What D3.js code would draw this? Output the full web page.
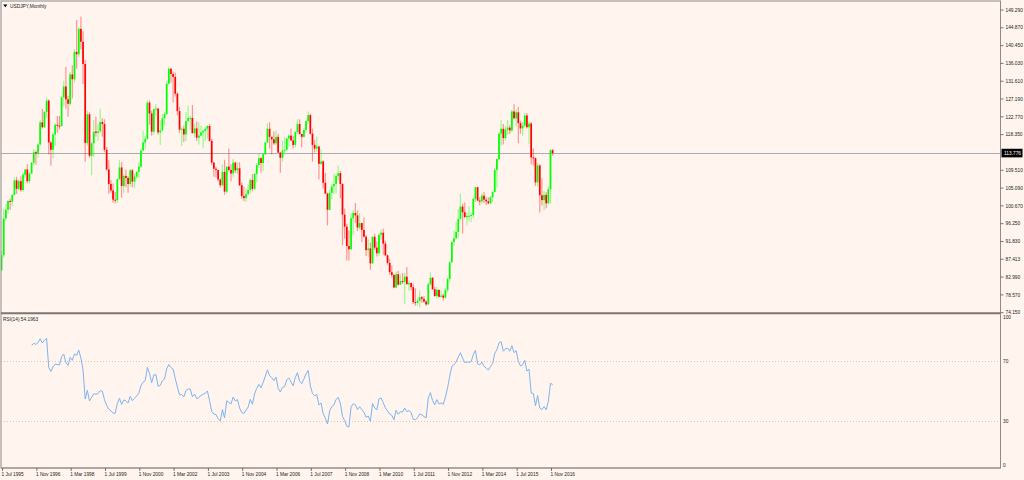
<!DOCTYPE html>
<html><head><meta charset="utf-8">
<script src="https://cdn.jsdelivr.net/npm/d3@7"></script>
<style>html,body{margin:0;padding:0;background:#fff5ee;} svg{display:block;}</style>
</head><body>
<svg id="chart" width="1024" height="480"></svg>
<script>
// ---- DATA (USDJPY monthly, Jul 1995 .. Dec 2016) ----
const firstMonth = "1995-07";
const lastMonth = "2016-12";
const openP = [
84.7,88.4,97.5,99.7,101.9,101.7,
103.4,107.0,104.9,106.8,104.6,108.4,109.7,106.8,108.7,111.4,114.0,113.7,
115.9,121.4,120.2,124.0,126.8,116.4,114.6,118.4,120.8,120.6,120.5,127.6,
130.3,127.1,126.0,133.3,132.1,138.9,138.3,144.6,141.4,135.9,116.3,123.4,
113.1,116.2,119.1,118.8,119.2,121.5,121.0,114.6,109.7,106.1,104.5,102.2,
102.1,107.3,110.2,105.6,108.1,107.6,106.1,109.5,106.7,107.9,109.1,110.4,
114.4,116.4,117.3,126.3,123.6,119.1,124.7,124.8,118.9,119.4,122.4,123.5,
131.0,134.7,133.4,132.7,128.5,124.2,119.6,119.8,118.4,121.7,122.5,122.5,
118.7,119.9,117.6,118.1,118.9,119.3,119.8,120.5,116.8,111.4,109.9,109.6,
107.2,105.8,109.1,104.2,110.4,109.6,108.7,111.4,109.5,110.0,105.8,103.1,
102.6,103.6,104.6,107.1,104.9,108.6,110.8,112.5,111.3,113.5,116.4,119.8,
117.8,117.2,116.2,117.8,113.9,112.6,114.4,114.6,117.4,118.1,116.9,115.8,
119.0,121.0,118.5,117.8,119.5,121.7,123.2,118.6,115.8,114.9,115.4,111.1,
111.7,106.4,103.7,99.7,103.9,105.5,106.1,108.1,108.8,106.1,98.5,95.5,
90.7,89.9,97.6,98.9,98.3,95.3,96.4,94.7,93.0,89.7,90.1,86.4,
93.0,90.3,88.9,93.5,94.0,91.3,88.4,86.5,84.2,83.5,80.4,83.7,
81.1,82.0,81.8,83.1,81.2,81.5,80.5,76.8,76.6,77.1,78.0,77.6,
76.9,76.2,81.2,82.8,80.0,78.3,79.8,78.1,78.4,77.9,79.8,82.5,
86.7,91.7,92.6,94.2,97.4,100.5,99.1,97.9,98.2,98.2,98.4,102.4,
105.3,102.0,101.8,103.2,102.2,101.8,101.3,102.8,104.1,109.6,112.3,118.6,
119.8,117.5,119.6,120.1,119.4,124.1,122.4,123.9,121.2,119.9,120.6,123.1,
120.2,121.1,112.7,112.5,106.5,110.7,103.3,102.1,103.4,101.3,104.8,114.5
];
const highP = [
89.5,99.9,101.2,102.0,102.5,103.6,
107.8,107.9,107.2,108.0,108.8,109.9,111.0,109.0,111.5,114.8,114.4,116.2,
121.9,124.7,124.2,127.5,127.1,116.8,118.8,121.2,123.0,123.0,128.0,131.7,
135.2,128.0,133.9,135.6,139.6,146.8,145.0,147.7,144.0,136.9,124.3,123.9,
116.6,122.0,122.8,121.0,124.8,122.4,122.2,115.3,112.0,107.1,106.2,104.1,
107.4,112.0,111.5,108.6,109.7,108.0,109.8,109.8,108.7,109.4,111.5,114.9,
119.4,118.0,126.8,126.8,124.3,124.8,126.0,125.0,121.9,123.5,124.1,131.8,
135.2,134.9,134.0,133.8,128.9,125.3,120.2,120.6,124.0,125.6,123.0,125.7,
121.1,121.7,121.4,120.6,119.6,120.3,120.6,121.0,117.3,111.6,110.4,109.6,
107.5,111.0,112.1,110.5,114.9,111.0,112.3,111.6,111.5,111.5,106.5,105.4,
104.9,106.0,107.5,108.6,108.8,111.3,113.7,112.8,113.6,116.6,121.2,121.4,
117.9,119.1,119.4,118.6,114.0,116.9,117.8,117.5,118.5,119.9,118.1,119.2,
122.2,122.2,118.6,120.0,122.0,124.1,123.6,119.9,117.0,117.9,115.5,114.7,
111.9,108.8,104.0,104.7,106.1,108.6,108.6,110.6,109.3,106.3,100.0,96.2,
94.6,98.9,99.7,101.4,99.6,98.9,96.5,97.8,93.4,92.3,91.5,93.1,
93.8,91.8,93.8,94.8,95.0,92.0,88.6,87.6,85.9,83.8,84.4,84.5,
83.7,84.0,84.0,85.5,82.2,81.7,81.4,80.2,77.9,79.6,78.3,78.3,
77.3,81.7,84.2,83.0,80.6,80.6,79.9,79.6,78.9,80.4,82.8,86.8,
91.8,94.5,96.7,99.9,103.7,101.2,101.5,99.1,100.6,99.0,102.6,105.4,
105.4,102.8,103.8,104.1,102.8,102.8,103.1,104.5,110.1,112.5,119.0,121.9,
121.0,120.5,122.0,120.8,124.5,125.9,124.6,125.3,121.8,121.5,123.8,123.7,
121.7,121.5,114.9,112.7,111.4,111.0,107.5,104.3,104.1,105.5,114.8,114.8
];
const lowP = [
84.5,87.8,96.9,98.7,99.7,100.6,
103.3,103.6,104.5,104.2,104.2,107.6,106.3,106.2,108.6,110.6,110.9,112.6,
115.6,119.9,120.0,122.5,113.4,110.6,112.5,115.6,118.9,119.6,120.3,125.4,
124.8,122.8,125.5,127.3,131.3,134.7,137.6,139.5,130.9,111.6,115.6,112.6,
108.3,112.8,117.9,116.8,118.8,117.8,114.0,109.4,103.7,103.9,101.5,101.3,
101.4,107.0,102.7,103.9,105.3,103.9,105.4,105.3,105.1,107.3,107.6,110.1,
114.3,114.7,117.1,120.8,118.1,118.4,123.0,118.3,115.8,119.2,120.6,123.2,
130.9,131.3,126.3,127.8,123.1,118.8,115.5,116.5,116.8,121.6,119.6,118.7,
117.7,116.8,115.9,118.0,115.0,116.8,117.3,116.6,110.8,107.9,107.7,106.8,
105.2,105.5,103.4,103.8,109.2,106.8,107.8,108.8,108.6,105.6,102.5,101.8,
101.7,103.3,103.8,104.3,104.6,106.6,110.1,108.9,109.4,113.3,116.3,114.9,
113.4,115.8,115.6,113.8,108.9,111.6,113.6,114.3,115.4,116.8,114.9,115.2,
118.5,118.3,115.2,117.6,118.8,121.0,118.3,111.6,113.9,114.1,107.2,110.8,
104.9,103.6,95.8,99.6,102.3,103.6,103.8,107.1,102.6,90.9,92.5,87.1,
87.1,89.7,93.5,96.5,94.4,94.8,91.7,92.8,88.2,88.0,84.8,86.3,
89.8,88.1,88.2,92.2,88.6,88.2,86.1,83.6,82.9,80.2,80.2,80.9,
81.0,81.3,76.3,81.2,79.6,79.7,76.3,75.9,75.9,75.5,76.6,76.6,
75.9,76.1,80.9,79.8,78.1,77.7,77.9,77.9,77.1,77.7,79.2,81.7,
86.5,90.8,92.5,92.6,97.3,93.8,97.6,95.8,97.0,96.6,97.6,101.6,
101.8,100.8,101.2,101.4,100.8,101.1,101.1,101.5,104.0,105.2,111.9,115.6,
115.9,116.9,118.3,118.5,118.9,122.1,120.4,116.2,118.6,118.1,120.2,119.9,
116.0,111.0,110.7,105.6,105.5,99.0,100.7,99.6,100.1,101.2,101.2,113.1
];
const closeP = [
88.4,97.5,99.7,101.9,101.7,103.4,
107.0,104.9,106.8,104.6,108.4,109.7,106.8,108.7,111.4,114.0,113.7,115.9,
121.4,120.2,124.0,126.8,116.4,114.6,118.4,120.8,120.6,120.5,127.6,130.3,
127.1,126.0,133.3,132.1,138.9,138.3,144.6,141.4,135.9,116.3,123.4,113.1,
116.2,119.1,118.8,119.2,121.5,121.0,114.6,109.7,106.1,104.5,102.2,102.1,
107.3,110.2,105.6,108.1,107.6,106.1,109.5,106.7,107.9,109.1,110.4,114.4,
116.4,117.3,126.3,123.6,119.1,124.7,124.8,118.9,119.4,122.4,123.5,131.0,
134.7,133.4,132.7,128.5,124.2,119.6,119.8,118.4,121.7,122.5,122.5,118.7,
119.9,117.6,118.1,118.9,119.3,119.8,120.5,116.8,111.4,109.9,109.6,107.2,
105.8,109.1,104.2,110.4,109.6,108.7,111.4,109.5,110.0,105.8,103.1,102.6,
103.6,104.6,107.1,104.9,108.6,110.8,112.5,111.3,113.5,116.4,119.8,117.8,
117.2,116.2,117.8,113.9,112.6,114.4,114.6,117.4,118.1,116.9,115.8,119.0,
121.0,118.5,117.8,119.5,121.7,123.2,118.6,115.8,114.9,115.4,111.1,111.7,
106.4,103.7,99.7,103.9,105.5,106.1,108.1,108.8,106.1,98.5,95.5,90.7,
89.9,97.6,98.9,98.3,95.3,96.4,94.7,93.0,89.7,90.1,86.4,93.0,
90.3,88.9,93.5,94.0,91.3,88.4,86.5,84.2,83.5,80.4,83.7,81.1,
82.0,81.8,83.1,81.2,81.5,80.5,76.8,76.6,77.1,78.0,77.6,76.9,
76.2,81.2,82.8,80.0,78.3,79.8,78.1,78.4,77.9,79.8,82.5,86.7,
91.7,92.6,94.2,97.4,100.5,99.1,97.9,98.2,98.2,98.4,102.4,105.3,
102.0,101.8,103.2,102.2,101.8,101.3,102.8,104.1,109.6,112.3,118.6,119.8,
117.5,119.6,120.1,119.4,124.1,122.4,123.9,121.2,119.9,120.6,123.1,120.2,
121.1,112.7,112.5,106.5,110.7,103.3,102.1,103.4,101.3,104.8,114.5,113.776
];
const priceTicks = ["149.290","144.870","140.450","136.030","131.610","127.190","122.770","118.350",
  "109.510","105.090","100.670","96.250","91.830","87.413","82.990","78.570","74.150"];
const currentPrice = 113.776;
const currentPriceLabel = "113.776";
const rsiTicks = [100, 70, 30, 0];
const rsiLevels = [70, 30];
const rsiPeriod = 14;
const xTickLabels = ["1 Jul 1995","1 Nov 1996","1 Mar 1998","1 Jul 1999","1 Nov 2000","1 Mar 2002",
  "1 Jul 2003","1 Nov 2004","1 Mar 2006","1 Jul 2007","1 Nov 2008","1 Mar 2010","1 Jul 2011",
  "1 Nov 2012","1 Mar 2014","1 Jul 2015","1 Nov 2016"];
const chartTitle = "USDJPY,Monthly";
const rsiTitle = "RSI(14) 54.1963";

// ---- BUILD ----
const pm = d3.timeParse("%Y-%m");
const months = d3.timeMonth.range(pm(firstMonth), d3.timeMonth.offset(pm(lastMonth), 1));
const bars = months.map((d, i) => ({date: d, o: openP[i], h: highP[i], l: lowP[i], c: closeP[i]}));

// RSI(14), Wilder smoothing, from the closes
function wilderRSI(cl, n) {
  const out = cl.map(() => null);
  let g = 0, l = 0;
  for (let i = 1; i <= n; i++) { const d = cl[i] - cl[i-1]; if (d > 0) g += d; else l -= d; }
  g /= n; l /= n;
  out[n] = l === 0 ? 100 : 100 - 100 / (1 + g / l);
  for (let i = n + 1; i < cl.length; i++) {
    const d = cl[i] - cl[i-1];
    g = (g * (n - 1) + Math.max(d, 0)) / n;
    l = (l * (n - 1) + Math.max(-d, 0)) / n;
    out[i] = l === 0 ? 100 : 100 - 100 / (1 + g / l);
  }
  return out;
}
const rsiVals = wilderRSI(closeP, rsiPeriod);

const svg = d3.select("#chart");
const FONT = "'Liberation Sans', Arial, sans-serif";
const FS = 4.8;
const plotL = 1, plotR = 1000.5, mainT = 1.5, mainB = 312.5, rsiT = 314.5, rsiB = 468;

const x = d3.scaleBand().domain(months.map(d => +d)).range([0.5, 0.5 + months.length * 2.1442]).paddingInner(0);
const cx = d => x(+d) + x.bandwidth() / 2;
const y = d3.scaleLinear().domain([74.15, 149.29]).range([312.7, 10]);
const yr = d3.scaleLinear().domain([0, 100]).range([466, 316]);

svg.append("rect").attr("width", 1024).attr("height", 480).attr("fill", "#fff5ee");

svg.append("defs").append("clipPath").attr("id", "mainclip")
  .append("rect").attr("x", plotL).attr("y", mainT).attr("width", plotR - plotL).attr("height", mainB - mainT);

// current price line
svg.append("line").attr("x1", plotL).attr("x2", plotR).attr("y1", y(currentPrice)).attr("y2", y(currentPrice))
  .attr("stroke", "#a7adb4").attr("stroke-width", 1).attr("shape-rendering", "crispEdges");

// candles
const cg = svg.append("g").attr("clip-path", "url(#mainclip)");
const col = b => b.c >= b.o ? "#00ff00" : "#ff0000";
cg.selectAll("line.wick").data(bars).join("line").attr("class", "wick")
  .attr("x1", b => cx(b.date)).attr("x2", b => cx(b.date))
  .attr("y1", b => y(b.h)).attr("y2", b => y(b.l))
  .attr("stroke", col).attr("stroke-opacity", 0.4).attr("stroke-width", 1.2);
cg.selectAll("rect.body").data(bars).join("rect").attr("class", "body")
  .attr("x", b => cx(b.date) - 0.85).attr("width", 1.7)
  .attr("y", b => y(Math.max(b.o, b.c)))
  .attr("height", b => Math.max(1, Math.abs(y(b.o) - y(b.c))))
  .attr("fill", col);

// RSI levels
rsiLevels.forEach(v => {
  svg.append("line").attr("x1", plotL).attr("x2", plotR).attr("y1", yr(v) + 0.5).attr("y2", yr(v) + 0.5)
    .attr("stroke", "#dcc8b0").attr("stroke-width", 1).attr("stroke-dasharray", "1,2");
});

// RSI line
const rsiData = bars.map((b, i) => ({date: b.date, v: rsiVals[i]})).filter(d => d.v !== null);
svg.append("path").datum(rsiData)
  .attr("d", d3.line().x(d => cx(d.date)).y(d => yr(d.v)))
  .attr("fill", "none").attr("stroke", "#7cb4f0").attr("stroke-width", 1);

// frames
svg.append("rect").attr("x", 1).attr("y", 1).attr("width", plotR - 1).attr("height", rsiB - 1)
  .attr("fill", "none").attr("stroke", "#8c8c8c").attr("stroke-width", 1);
svg.append("line").attr("x1", 1).attr("x2", plotR).attr("y1", 313.3).attr("y2", 313.3)
  .attr("stroke", "#7a7672").attr("stroke-width", 2);
svg.append("line").attr("x1", 1).attr("x2", plotR).attr("y1", rsiB).attr("y2", rsiB)
  .attr("stroke", "#a89f98").attr("stroke-width", 1.3);
svg.append("line").attr("x1", plotR).attr("x2", plotR).attr("y1", 1).attr("y2", rsiB)
  .attr("stroke", "#8c8c8c").attr("stroke-width", 1);

// price axis
const yAxisG = svg.append("g");
priceTicks.forEach(t => {
  const yy = y(+t);
  yAxisG.append("line").attr("x1", plotR).attr("x2", plotR + 3).attr("y1", yy).attr("y2", yy)
    .attr("stroke", "#555").attr("stroke-width", 0.8);
  yAxisG.append("text").attr("x", plotR + 5).attr("y", yy).attr("dy", "0.35em")
    .attr("font-family", FONT).attr("font-size", FS).attr("fill", "#222").text(t);
});
// current price badge
const yc = y(currentPrice);
svg.append("rect").attr("x", plotR + 1).attr("y", yc - 4.3).attr("width", 21).attr("height", 8.6).attr("fill", "#000");
svg.append("text").attr("x", plotR + 3.5).attr("y", yc).attr("dy", "0.35em")
  .attr("font-family", FONT).attr("font-size", FS).attr("fill", "#fff").text(currentPriceLabel);

// RSI axis
rsiTicks.forEach(v => {
  let yy = yr(v);
  if (v === 100) yy += 1.8;
  if (v === 0) yy -= 1;
  svg.append("text").attr("x", plotR + 2.5).attr("y", yy).attr("dy", "0.35em")
    .attr("font-family", FONT).attr("font-size", FS).attr("fill", "#222").text(v);
});

// time axis
const tp = d3.timeParse("%d %b %Y");
xTickLabels.forEach(s => {
  const d = tp(s);
  const xx = cx(d) + 1;
  svg.append("line").attr("x1", xx).attr("x2", xx).attr("y1", rsiB).attr("y2", rsiB + 3)
    .attr("stroke", "#555").attr("stroke-width", 0.8);
  svg.append("text").attr("x", xx - 1).attr("y", 474.5).attr("dy", "0.35em")
    .attr("font-family", FONT).attr("font-size", FS).attr("fill", "#222").text(s);
});

// titles
svg.append("path").attr("d", "M3.2,4.6 L7.4,4.6 L5.3,7.2 Z").attr("fill", "#000");
svg.append("text").attr("x", 10).attr("y", 6).attr("dy", "0.35em")
  .attr("font-family", FONT).attr("font-size", FS).attr("fill", "#222").text(chartTitle);
svg.append("text").attr("x", 3).attr("y", 319).attr("dy", "0.35em")
  .attr("font-family", FONT).attr("font-size", FS).attr("fill", "#222").text(rsiTitle);
</script>
</body></html>
